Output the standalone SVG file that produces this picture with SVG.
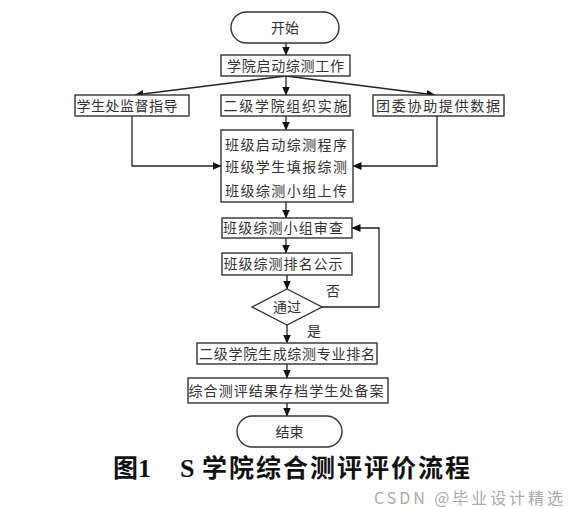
<svg xmlns="http://www.w3.org/2000/svg" width="580" height="508" viewBox="0 0 580 508">
<defs>
<marker id="ah" markerWidth="9" markerHeight="8" refX="8.5" refY="4" orient="auto" markerUnits="userSpaceOnUse">
<path d="M0,0 L9,4 L0,8 Z" fill="#111"/>
</marker>
<style>
.box{fill:#fff;stroke:#333;stroke-width:1.4}
.t{font-family:"Noto Sans CJK SC","Noto Sans",sans-serif;font-size:14px;fill:#333;text-anchor:middle}
.c{fill:none;stroke:#222;stroke-width:1.3;marker-end:url(#ah)}
</style>
</defs>
<rect width="580" height="508" fill="#fff"/>
<g id="connectors">
<line class="c" x1="286" y1="43" x2="286" y2="55"/>
<line class="c" x1="286" y1="76" x2="135" y2="95"/>
<line class="c" x1="286" y1="76" x2="286" y2="95"/>
<line class="c" x1="286" y1="76" x2="435" y2="95"/>
<line class="c" x1="286" y1="116" x2="286" y2="130"/>
<polyline class="c" points="132,116 132,166 221,166"/>
<polyline class="c" points="437,116 437,166 353,166"/>
<line class="c" x1="286" y1="202" x2="286" y2="218"/>
<line class="c" x1="286" y1="238" x2="286" y2="253"/>
<line class="c" x1="287" y1="275" x2="287" y2="289"/>
<line class="c" x1="287" y1="325" x2="287" y2="343"/>
<polyline class="c" points="322,307 379,307 379,228 352,228"/>
<line class="c" x1="287" y1="364" x2="287" y2="378"/>
<line class="c" x1="287" y1="403" x2="287" y2="416"/>
<text class="t" x="333" y="296">否</text>
<text class="t" x="314" y="336">是</text>
</g>
<g id="start">
<rect class="box" x="231" y="12" width="108" height="31" rx="15.5"/>
<text class="t" x="285" y="33">开始</text>
</g>
<g id="n1">
<rect class="box" x="221" y="55" width="129" height="21"/>
<text class="t" x="285.5" y="70.5" textLength="117" lengthAdjust="spacing">学院启动综测工作</text>
</g>
<g id="n2">
<rect class="box" x="75" y="95" width="114" height="21"/>
<text class="t" x="127" y="110.5" textLength="101" lengthAdjust="spacing">学生处监督指导</text>
</g>
<g id="n3">
<rect class="box" x="221" y="95" width="129" height="21"/>
<text class="t" x="285.5" y="110.5" textLength="124" lengthAdjust="spacing">二级学院组织实施</text>
</g>
<g id="n4">
<rect class="box" x="373" y="95" width="131" height="21"/>
<text class="t" x="438" y="110.5" textLength="124" lengthAdjust="spacing">团委协助提供数据</text>
</g>
<g id="n5">
<rect class="box" x="221" y="130" width="132" height="72"/>
<text class="t" x="286" y="150" textLength="122" lengthAdjust="spacing">班级启动综测程序</text>
<text class="t" x="286" y="172" textLength="122" lengthAdjust="spacing">班级学生填报综测</text>
<text class="t" x="286" y="196" textLength="122" lengthAdjust="spacing">班级综测小组上传</text>
</g>
<g id="n6">
<rect class="box" x="222" y="218" width="130" height="20"/>
<text class="t" x="283" y="233" textLength="120" lengthAdjust="spacing">班级综测小组审查</text>
</g>
<g id="n7">
<rect class="box" x="222" y="253" width="130" height="22"/>
<text class="t" x="283" y="269" textLength="119" lengthAdjust="spacing">班级综测排名公示</text>
</g>
<g id="n8">
<polygon class="box" points="287,289 322,307 287,325 252,307"/>
<text class="t" x="287" y="312">通过</text>
</g>
<g id="n9">
<rect class="box" x="197" y="343" width="180" height="21"/>
<text class="t" x="287" y="358.5" textLength="176" lengthAdjust="spacing">二级学院生成综测专业排名</text>
</g>
<g id="n10">
<rect class="box" x="188" y="378" width="200" height="25"/>
<text class="t" x="286" y="395.5" textLength="195" lengthAdjust="spacing">综合测评结果存档学生处备案</text>
</g>
<g id="end">
<rect class="box" x="237" y="416" width="105" height="31" rx="15.5"/>
<text class="t" x="289.5" y="437">结束</text>
</g>
<g id="caption" font-weight="bold" fill="#111">
<text x="113" y="477" font-family="'Noto Sans CJK SC',sans-serif" font-size="25">图</text>
<text x="138" y="477" font-family="'Liberation Serif',serif" font-size="26">1</text>
<text x="180" y="477" font-family="'Liberation Serif',serif" font-size="26">S</text>
<text x="202" y="477" font-family="'Noto Sans CJK SC',sans-serif" font-size="25" textLength="268" lengthAdjust="spacing">学院综合测评评价流程</text>
</g>
<text x="374" y="504" font-family="'Noto Sans CJK SC',sans-serif" font-size="16" fill="#aaa" textLength="189" lengthAdjust="spacing">CSDN @毕业设计精选</text>
</svg>
